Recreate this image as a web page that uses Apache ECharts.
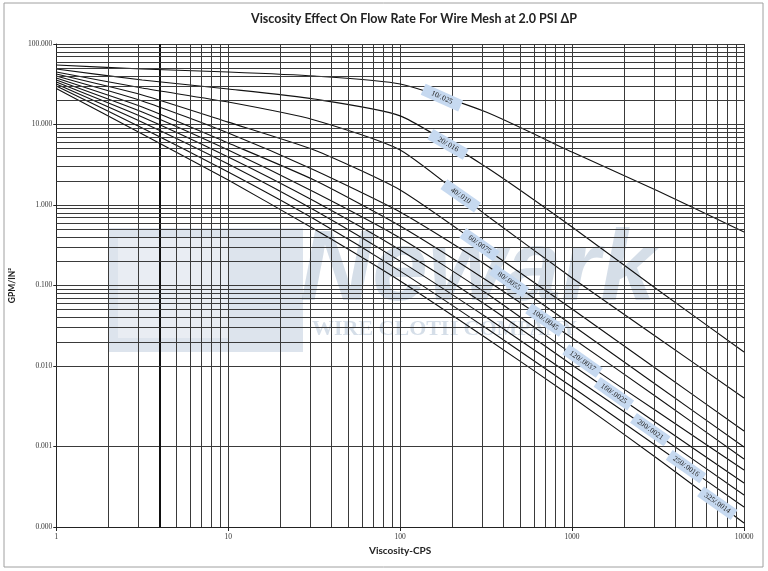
<!DOCTYPE html>
<html>
<head>
<meta charset="utf-8">
<script src="https://cdn.jsdelivr.net/npm/echarts@6/dist/echarts.min.js"></script>
<style>
html,body{margin:0;padding:0;background:#fff;}
#chart{width:768px;height:571px;}
</style>
</head>
<body>
<div id="chart"></div>
<script>
// Viscosity (CPS) sample points
const viscosity = [1, 3.16, 10, 31.6, 100, 316, 1000, 3160, 10000];

// Flow rate GPM/IN² for each mesh
const mesh10  = [54.8, 48.9, 44.9, 40.0, 31.9, 14.3, 4.55, 1.49, 0.462];
const mesh20  = [48.9, 35.7, 27.6, 20.7, 12.8, 2.96, 0.533, 0.0879, 0.0149];
const mesh40  = [44.9, 28.4, 19.0, 11.4, 4.82, 0.751, 0.124, 0.0223, 0.00400];
const mesh60  = [42.4, 23.3, 10.7, 4.82, 1.54, 0.284, 0.0511, 0.00892, 0.00156];
const mesh80  = [40.0, 19.6, 7.84, 2.72, 0.818, 0.180, 0.0323, 0.00564, 0.000986];
const mesh100 = [37.8, 16.5, 5.89, 2.04, 0.548, 0.117, 0.0223, 0.00400, 0.000699];
const mesh120 = [35.7, 14.3, 4.82, 1.45, 0.389, 0.0807, 0.0141, 0.00268, 0.000511];
const mesh160 = [33.7, 12.4, 3.95, 1.12, 0.276, 0.0573, 0.0103, 0.00190, 0.000352];
const mesh200 = [31.9, 10.7, 3.23, 0.867, 0.201, 0.0406, 0.00751, 0.00139, 0.000250];
const mesh250 = [30.1, 9.05, 2.57, 0.670, 0.151, 0.0296, 0.00548, 0.000986, 0.000177];
const mesh325 = [28.0, 7.62, 2.04, 0.503, 0.114, 0.0223, 0.00412, 0.000699, 0.000112];

const meshNames = ["10/.025", "20/.016", "40/.010", "60/.0075", "80/.0055", "100/.0045",
                   "120/.0037", "160/.0025", "200/.0021", "250/.0016", "325/.0014"];
const meshSeries = [mesh10, mesh20, mesh40, mesh60, mesh80, mesh100, mesh120, mesh160, mesh200, mesh250, mesh325];
// Viscosity at which each curve's label sits
const labelAt = [175, 190, 225, 290, 430, 700, 1150, 1750, 2850, 4600, 7000];
const labelAngle = [-24, -30, -35, -35, -35, -35, -35, -35, -35, -35, -35];

function interpLog(xs, ys, x) {
  const lx = Math.log10(x);
  for (let i = 0; i < xs.length - 1; i++) {
    const a = Math.log10(xs[i]), b = Math.log10(xs[i + 1]);
    if (lx >= a && lx <= b) {
      const t = (lx - a) / (b - a);
      return Math.pow(10, Math.log10(ys[i]) + t * (Math.log10(ys[i + 1]) - Math.log10(ys[i])));
    }
  }
  return ys[ys.length - 1];
}

// minor grid lines (2..9 within each decade)
const minorX = [], minorY = [];
for (let k = 0; k < 4; k++) for (let m = 2; m <= 9; m++) {
  const v = m * Math.pow(10, k);
  const strong = (m === 4 && k === 0);
  minorX.push({ xAxis: v, lineStyle: { width: strong ? 2 : 1, color: strong ? '#111' : '#3a3a3a' } });
}
for (let k = -4; k < 2; k++) for (let m = 2; m <= 9; m++) {
  minorY.push({ yAxis: m * Math.pow(10, k) });
}

const series = meshSeries.map((vals, i) => ({
  name: meshNames[i],
  type: 'line',
  data: viscosity.map((x, j) => [x, vals[j]]),
  showSymbol: false,
  smooth: 0.2,
  lineStyle: { color: '#111', width: 1.1 },
  z: 3,
  markPoint: {
    silent: true,
    symbol: 'rect',
    symbolSize: [41, 12],
    symbolRotate: labelAngle[i],
    itemStyle: { color: '#c6d9f0' },
    label: {
      show: true, position: 'inside', rotate: labelAngle[i],
      formatter: meshNames[i], fontSize: 7.5, color: '#222',
      fontFamily: 'Liberation Serif'
    },
    data: [{ coord: [labelAt[i], interpLog(viscosity, vals, labelAt[i])] }],
    z: 5
  }
}));

series.push({
  type: 'line', data: [], silent: true, z: 1,
  markLine: {
    silent: true, symbol: ['none', 'none'], label: { show: false },
    lineStyle: { color: '#3a3a3a', width: 1, type: 'solid' },
    animation: false,
    data: minorX.concat(minorY)
  }
});

const wm = 'rgba(150,172,198,0.40)';
const chart = echarts.init(document.getElementById('chart'), null, { renderer: 'canvas' });
chart.setOption({
  animation: false,
  backgroundColor: '#fff',
  title: {
    text: 'Viscosity Effect On Flow Rate For Wire Mesh at 2.0 PSI ΔP',
    left: 246, top: 7,
    textStyle: { fontFamily: 'Lato', fontWeight: 'bold', fontSize: 12.5, color: '#222' }
  },
  graphic: [
    { type: 'rect', z: -10, shape: { x: 4, y: 3, width: 759, height: 564 }, style: { fill: 'none', stroke: '#a0a0a0', lineWidth: 1 } },
    { type: 'rect', z: -5, shape: { x: 108, y: 228, width: 195, height: 124 }, style: { fill: 'rgba(150,172,198,0.32)' } },
    { type: 'rect', z: -5, shape: { x: 118, y: 238, width: 110, height: 100 }, style: { fill: 'rgba(255,255,255,0.35)' } },
    { type: 'text', z: -5, left: 300, top: 222, style: { text: 'Newark', fontSize: 100, fontWeight: 'bold', fontStyle: 'italic', fontFamily: 'Liberation Sans', fill: wm } },
    { type: 'text', z: -5, left: 312, top: 318, style: { text: 'WIRE CLOTH COMPANY', fontSize: 22, fontWeight: 'bold', fontFamily: 'Liberation Serif', fill: wm } }
  ],
  grid: { left: 54, right: 24, top: 44, bottom: 44, containLabel: false },
  xAxis: {
    type: 'log', logBase: 10, min: 1, max: 10000,
    name: 'Viscosity-CPS', nameLocation: 'middle', nameGap: 18,
    nameTextStyle: { fontFamily: 'Lato', fontWeight: 'bold', fontSize: 10, color: '#222' },
    axisLine: { show: true, lineStyle: { color: '#222', width: 1 } },
    axisTick: { show: true, length: 4, lineStyle: { color: '#222' } },
    axisLabel: { fontSize: 7.5, color: '#333', fontFamily: 'Liberation Serif', margin: 6,
      formatter: v => String(Math.round(v)) },
    splitLine: { show: true, lineStyle: { color: '#3a3a3a', width: 1 } }
  },
  yAxis: {
    type: 'log', logBase: 10, min: 0.0001, max: 100,
    name: 'GPM/IN²', nameLocation: 'middle', nameGap: 32, nameRotate: 90,
    nameTextStyle: { fontFamily: 'Lato', fontWeight: 'bold', fontSize: 8.5, color: '#222' },
    axisLine: { show: true, lineStyle: { color: '#222', width: 1 } },
    axisTick: { show: true, length: 3, lineStyle: { color: '#222' } },
    axisLabel: { fontSize: 7.5, color: '#333', fontFamily: 'Liberation Serif', margin: 4,
      formatter: v => Number(v).toFixed(3) },
    splitLine: { show: true, lineStyle: { color: '#3a3a3a', width: 1 } }
  },
  series: series
});
</script>
</body>
</html>
